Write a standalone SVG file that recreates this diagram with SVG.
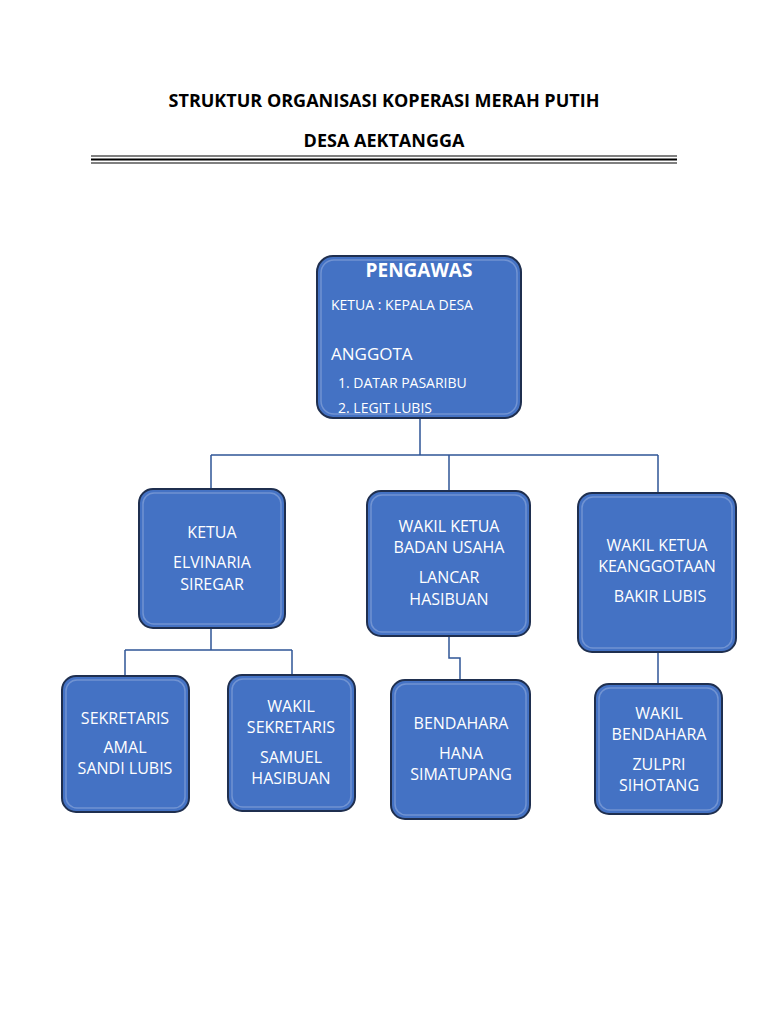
<svg xmlns="http://www.w3.org/2000/svg" width="768" height="1024" viewBox="0 0 768 1024">
<style>
.box{fill:#4472C4;stroke:#1F2F4F;stroke-width:2}
.in{fill:none;stroke:#8FAADC;stroke-width:1.5;opacity:0.6}
.t{font-family:"Open Sans","Liberation Sans",sans-serif;font-size:16px;fill:#fff;text-anchor:middle}
.l{font-family:"Open Sans","Liberation Sans",sans-serif;fill:#fff}
.c{fill:none;stroke:#2F5597;stroke-width:1.5}
.h{font-family:"Open Sans","Liberation Sans",sans-serif;font-size:18px;font-weight:bold;fill:#000;text-anchor:middle}
</style>
<rect width="768" height="1024" fill="#fff"/>
<g id="title">
<text class="h" x="384" y="107">STRUKTUR ORGANISASI KOPERASI MERAH PUTIH</text>
<text class="h" x="384" y="147">DESA AEKTANGGA</text>
<line x1="91" y1="156" x2="677" y2="156" stroke="#000" stroke-width="1.2"/>
<line x1="91" y1="159.5" x2="677" y2="159.5" stroke="#000" stroke-width="2"/>
<line x1="91" y1="163" x2="677" y2="163" stroke="#000" stroke-width="1.2"/>
</g>
<g id="connectors">
<path class="c" d="M420 418V455M211 455H658M211 455V489M449 455V491M658 455V493"/>
<path class="c" d="M211 628V650M125 650H292M125 650V676M292 650V675"/>
<path class="c" d="M449 636V658H460V680"/>
<path class="c" d="M658 652V684"/>
</g>
<g id="pengawas">
<rect class="box" x="317" y="256" width="204" height="162" rx="16"/>
<rect class="in" x="321" y="260" width="196" height="154" rx="13"/>
<text class="l" x="419" y="277" font-size="19" font-weight="bold" text-anchor="middle">PENGAWAS</text>
<text class="l" x="331" y="310" font-size="14">KETUA : KEPALA DESA</text>
<text class="l" x="331" y="360" font-size="17">ANGGOTA</text>
<text class="l" x="338" y="388" font-size="14">1. DATAR PASARIBU</text>
<text class="l" x="338" y="413" font-size="14">2. LEGIT LUBIS</text>
</g>
<g id="ketua">
<rect class="box" x="139" y="489" width="146" height="139" rx="14"/>
<rect class="in" x="143" y="493" width="138" height="131" rx="11"/>
<text class="t" x="212" y="538">KETUA</text>
<text class="t" x="212" y="568">ELVINARIA</text>
<text class="t" x="212" y="590">SIREGAR</text>
</g>
<g id="wakil-ketua-bu">
<rect class="box" x="367" y="491" width="163" height="145" rx="14"/>
<rect class="in" x="371" y="495" width="155" height="137" rx="11"/>
<text class="t" x="449" y="532">WAKIL KETUA</text>
<text class="t" x="449" y="553">BADAN USAHA</text>
<text class="t" x="449" y="583">LANCAR</text>
<text class="t" x="449" y="605">HASIBUAN</text>
</g>
<g id="wakil-ketua-keanggotaan">
<rect class="box" x="578" y="493" width="158" height="159" rx="14"/>
<rect class="in" x="582" y="497" width="150" height="151" rx="11"/>
<text class="t" x="657" y="551">WAKIL KETUA</text>
<text class="t" x="657" y="572">KEANGGOTAAN</text>
<text class="t" x="660" y="602">BAKIR LUBIS</text>
</g>
<g id="sekretaris">
<rect class="box" x="62" y="676" width="127" height="136" rx="14"/>
<rect class="in" x="66" y="680" width="119" height="128" rx="11"/>
<text class="t" x="125" y="724">SEKRETARIS</text>
<text class="t" x="125" y="753">AMAL</text>
<text class="t" x="125" y="774">SANDI LUBIS</text>
</g>
<g id="wakil-sekretaris">
<rect class="box" x="228" y="675" width="127" height="136" rx="14"/>
<rect class="in" x="232" y="679" width="119" height="128" rx="11"/>
<text class="t" x="291" y="712">WAKIL</text>
<text class="t" x="291" y="733">SEKRETARIS</text>
<text class="t" x="291" y="763">SAMUEL</text>
<text class="t" x="291" y="784">HASIBUAN</text>
</g>
<g id="bendahara">
<rect class="box" x="391" y="680" width="139" height="139" rx="14"/>
<rect class="in" x="395" y="684" width="131" height="131" rx="11"/>
<text class="t" x="461" y="729">BENDAHARA</text>
<text class="t" x="461" y="759">HANA</text>
<text class="t" x="461" y="780">SIMATUPANG</text>
</g>
<g id="wakil-bendahara">
<rect class="box" x="595" y="684" width="127" height="130" rx="14"/>
<rect class="in" x="599" y="688" width="119" height="122" rx="11"/>
<text class="t" x="659" y="719">WAKIL</text>
<text class="t" x="659" y="740">BENDAHARA</text>
<text class="t" x="659" y="770">ZULPRI</text>
<text class="t" x="659" y="791">SIHOTANG</text>
</g>
</svg>
